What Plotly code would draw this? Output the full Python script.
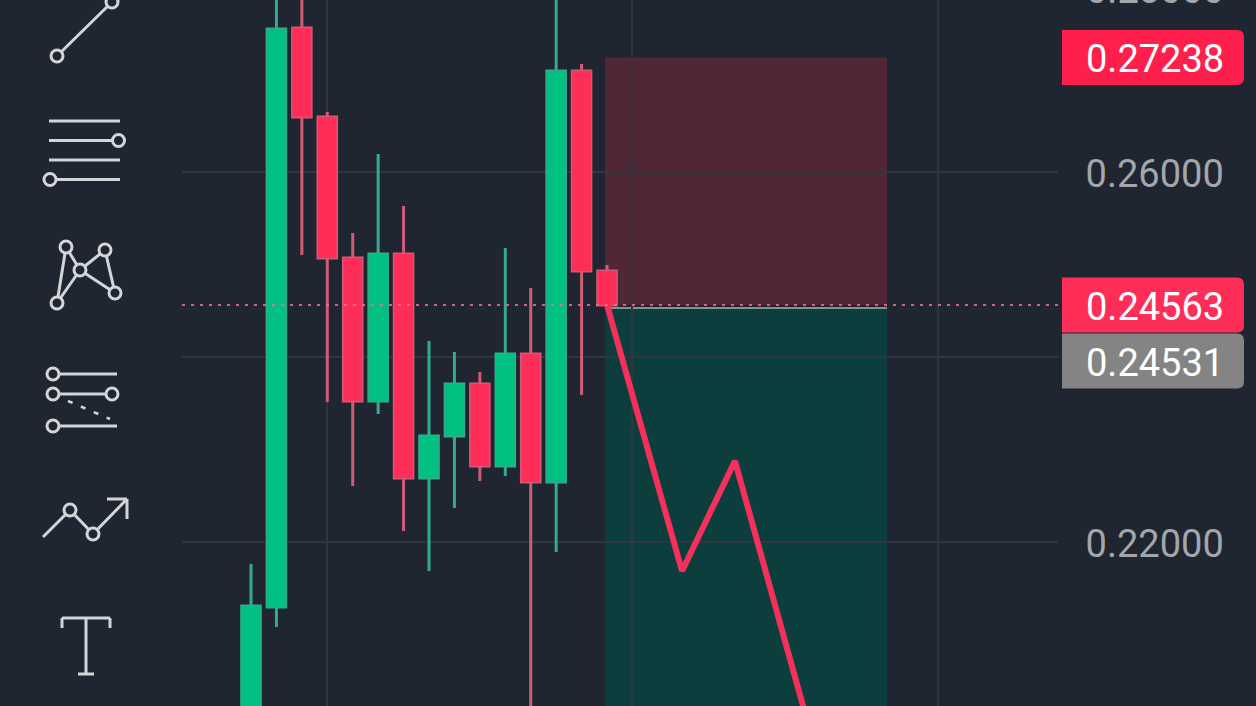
import plotly.graph_objects as go

W, H = 1256, 706
BG = "#1f2631"
UP = "#00c082"
DOWN = "#ff2e58"
UP_WICK = "#34ab8c"
DOWN_WICK = "#cf5c76"
ICON = "#d3d5d8"

idx = list(range(15))
opens = [0.19643, 0.21297, 0.27557, 0.26595, 0.2507, 0.23524, 0.25114, 0.22692, 0.23146, 0.23708, 0.22822, 0.24032, 0.22649, 0.27092, 0.2493]
highs = [0.21762, 0.28184, 0.28076, 0.26649, 0.25341, 0.26195, 0.25632, 0.24173, 0.24054, 0.23838, 0.25178, 0.24746, 0.29, 0.27168, 0.24995]
lows = [0.19427, 0.21081, 0.25103, 0.23514, 0.22605, 0.23384, 0.22119, 0.21686, 0.22368, 0.22659, 0.22714, 0.19, 0.21892, 0.23589, 0.24563]
closes = [0.21308, 0.27546, 0.26595, 0.2507, 0.23524, 0.25114, 0.22692, 0.23146, 0.23708, 0.22822, 0.24032, 0.22649, 0.27092, 0.2493, 0.24563]

stop_price = 0.27238
last_price = 0.24563
entry_price = 0.24531
target_price = 0.19
tick_vals = [0.26, 0.24, 0.22]
tick_text = ["0.26000", "", "0.22000"]
path_x = [14.0, 16.95, 19.03, 22.3]
path_y = [0.24563, 0.21686, 0.22876, 0.19643]
box_x = [13.92, 25.01]


def px(x):
    return x / W


def py(y):
    return 1 - y / H


shapes = []


def seg(x0, y0, x1, y1, dash="solid", w=3):
    shapes.append(dict(type="line", xref="paper", yref="paper", x0=px(x0), y0=py(y0), x1=px(x1), y1=py(y1),
                       line=dict(color=ICON, width=w, dash=dash)))


def circ(cx, cy, r=6):
    shapes.append(dict(type="circle", xref="paper", yref="paper", x0=px(cx - r), x1=px(cx + r), y0=py(cy - r), y1=py(cy + r),
                       fillcolor=BG, line=dict(color=ICON, width=3)))


# tool icons
seg(57, 56, 112, 2); circ(57, 56); circ(112, 2)
seg(49, 121, 120, 121); seg(49, 140.5, 112, 140.5); seg(49, 160, 120, 160); seg(56, 179.5, 120, 179.5)
circ(118.5, 140.5); circ(50, 179.5)
for a, b in [((57, 303), (66, 247)), ((66, 247), (80, 270)), ((57, 303), (80, 270)), ((80, 270), (105, 250)), ((105, 250), (115, 293)), ((80, 270), (115, 293))]:
    seg(*a, *b)
for c in [(66, 247), (105, 250), (80, 270), (115, 293), (57, 303)]:
    circ(*c)
seg(53, 374, 117, 374); seg(53, 394, 112, 394); seg(53, 426, 117, 426)
seg(68, 401, 110, 419, dash="5px,9px", w=2.5)
for c in [(53, 374), (53, 394), (112, 394), (53, 426)]:
    circ(*c)
seg(43, 537, 70, 510); seg(70, 510, 93, 534); seg(93, 534, 127, 499); seg(107, 499, 127, 499); seg(127, 499, 127, 519)
circ(70, 510); circ(93, 534)
seg(62, 618, 110, 618); seg(62, 618, 62, 628); seg(110, 618, 110, 628); seg(86, 618, 86, 674); seg(78, 674, 94, 674)

# position boxes
shapes.append(dict(type="rect", xref="x", yref="y", x0=box_x[0], x1=box_x[1], y0=last_price, y1=stop_price,
                   fillcolor="rgba(255,46,70,0.214)", line=dict(width=0), layer="below"))
shapes.append(dict(type="rect", xref="x", yref="y", x0=box_x[0], x1=box_x[1], y0=target_price, y1=entry_price,
                   fillcolor="rgba(0,78,72,0.6)", line=dict(width=0), layer="below"))
shapes.append(dict(type="line", xref="x", yref="y", x0=box_x[0], x1=box_x[1], y0=entry_price, y1=entry_price,
                   line=dict(color="#8a8f92", width=2), layer="below"))
shapes.append(dict(type="line", xref="x domain", yref="y", x0=0, x1=1, y0=last_price, y1=last_price,
                   line=dict(color="rgba(240,110,135,0.85)", width=2, dash="3px,6px")))

annotations = []


def tag(price, color, text, offset=0):
    top, bot = 27.5 - offset, -27.5 - offset
    r = 7
    path = (f"M0,{bot} L{182 - r},{bot} Q182,{bot} 182,{bot + r} L182,{top - r} Q182,{top} {182 - r},{top} L0,{top} Z")
    shapes.append(dict(type="path", xref="paper", yref="y", xsizemode="pixel", ysizemode="pixel",
                       xanchor=px(1062), yanchor=price, path=path, fillcolor=color, line=dict(width=0)))
    annotations.append(dict(xref="paper", yref="y", x=px(1084), y=price, xanchor="left", yanchor="middle",
                            yshift=-offset - 2, text=text, showarrow=False,
                            font=dict(family="Roboto", size=38, color="#ffffff")))


tag(stop_price, "#ff1f4c", "0.27238")
tag(last_price, "#ff2e58", "0.24563")
tag(entry_price, "#848484", "0.24531", offset=53)

annotations.append(dict(xref="paper", yref="paper", x=px(1084), y=py(-10), xanchor="left", yanchor="middle",
                        text="0.28000", showarrow=False, font=dict(family="Roboto", size=38, color="#a3a6aa")))

fig = go.Figure()
fig.add_trace(go.Candlestick(x=idx, open=opens, high=highs, low=lows, close=closes, whiskerwidth=0,
                             increasing=dict(line=dict(color=UP_WICK, width=3), fillcolor=UP),
                             decreasing=dict(line=dict(color=DOWN_WICK, width=3), fillcolor=DOWN),
                             showlegend=False, hoverinfo="skip"))
fig.add_trace(go.Candlestick(x=idx, open=opens, high=highs, low=lows, close=closes, whiskerwidth=0,
                             increasing=dict(line=dict(color=UP, width=0), fillcolor=UP),
                             decreasing=dict(line=dict(color=DOWN, width=0), fillcolor=DOWN),
                             showlegend=False, hoverinfo="skip"))
fig.add_trace(go.Scatter(x=path_x, y=path_y, mode="lines", line=dict(color="#f5305a", width=6),
                         showlegend=False, hoverinfo="skip"))

# pixel layout: x = 251 + 25.43 * i, y = 172 + (0.26 - p) * 9250
fig.update_layout(
    width=W, height=H, margin=dict(l=0, r=0, t=0, b=0), paper_bgcolor=BG, plot_bgcolor=BG,
    boxmode="overlay", boxgap=0.27, boxgroupgap=0, shapes=shapes, annotations=annotations, showlegend=False,
    xaxis=dict(domain=[182 / W, 1058 / W], range=[(182 - 251) / 25.43, (1058 - 251) / 25.43],
               tick0=3, dtick=12, showticklabels=False, ticks="", zeroline=False,
               showgrid=True, gridcolor="#2f3641", gridwidth=2, rangeslider=dict(visible=False)),
    yaxis=dict(side="right", range=[0.26 - (706 - 172) / 9250, 0.26 + 172 / 9250], tickvals=tick_vals, ticktext=tick_text,
               ticks="outside", ticklen=19, tickcolor="rgba(0,0,0,0)", zeroline=False, ticklabelshift=2,
               tickfont=dict(family="Roboto", size=38, color="#a3a6aa"),
               showgrid=True, gridcolor="#2f3641", gridwidth=2),
)

fig.write_html("out.html", config=dict(displayModeBar=False),
               post_script="document.body.style.margin='0';document.body.style.overflow='hidden';")
